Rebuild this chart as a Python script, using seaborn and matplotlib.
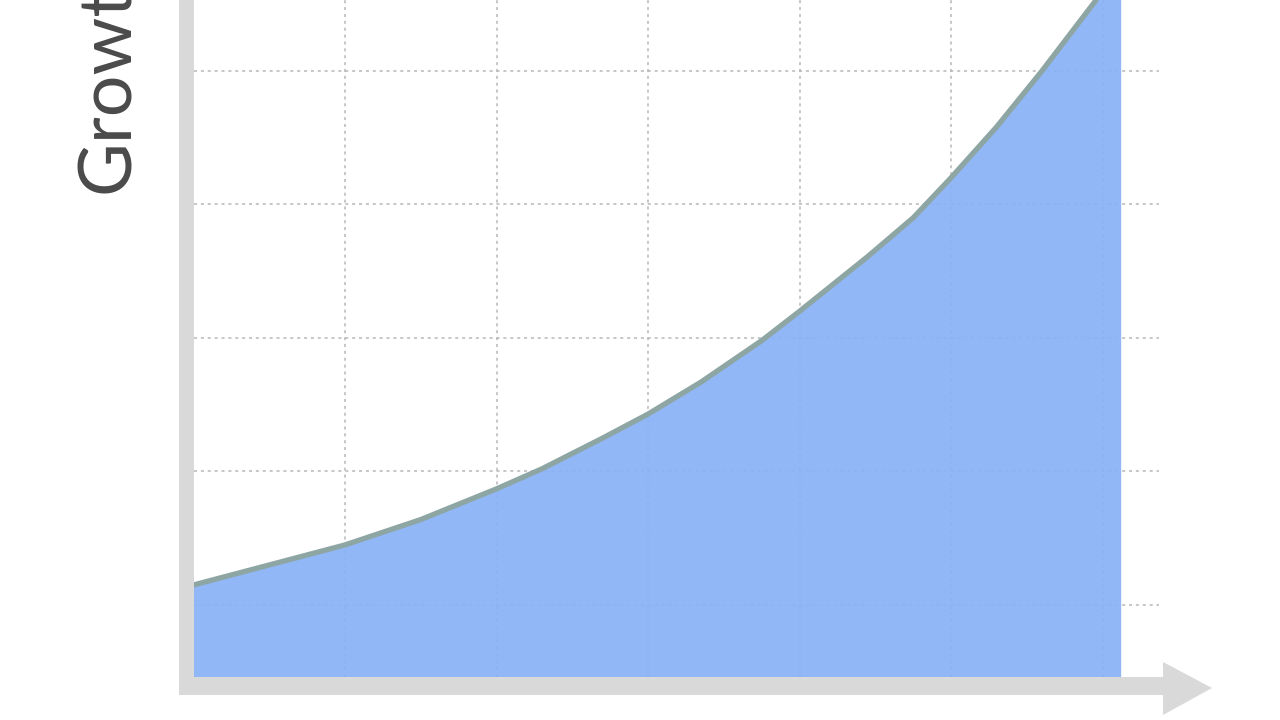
import matplotlib
matplotlib.use("Agg")
import matplotlib.pyplot as plt
import seaborn as sns
import pandas as pd
from matplotlib.patches import Rectangle, Polygon

# ---- data ----
x_vals = [0, 0.4, 1, 1.5, 2, 2.3, 2.7, 3, 3.35, 3.75, 4, 4.45, 4.75, 5, 5.3, 5.6, 5.95, 6.12]
growth = [1.15, 1.27, 1.45, 1.64, 1.87, 2.02, 2.25, 2.43, 2.67, 2.98, 3.20, 3.61, 3.90,
          4.20, 4.58, 5.00, 5.52, 5.80]
x_grid = [1, 2, 3, 4, 5, 6]
y_grid = [1, 2, 3, 4, 5]
y_label = "Growth"

df = pd.DataFrame({"x": x_vals, "growth": growth})

sns.set_style("white")

W, H = 1280, 720
fig = plt.figure(figsize=(12.8, 7.2), dpi=100)
fig.patch.set_facecolor("white")

x_unit = 151.5
y_unit = 133.5
x_max = 6.37
y_min = (738.5 - 677) / y_unit
y_max = y_min + 677 / y_unit

ax = fig.add_axes([193.5 / W, 43 / H, x_max * x_unit / W, 677 / H])
ax.set_xlim(0, x_max)
ax.set_ylim(y_min, y_max)

ax.set_xticks(x_grid)
ax.set_yticks(y_grid)
ax.grid(True, color="#b8b8b8", linestyle=(0, (2, 2.5)), linewidth=1.1, zorder=0)
ax.set_axisbelow(True)
ax.tick_params(left=False, bottom=False, labelleft=False, labelbottom=False)
for s in ax.spines.values():
    s.set_visible(False)

ax.fill_between(df["x"], df["growth"], y_min, color="#8ab2f7", alpha=0.93,
                linewidth=0, zorder=2)
sns.lineplot(data=df, x="x", y="growth", ax=ax, color="#8da5a3",
             linewidth=3.8, zorder=3, solid_capstyle="butt", solid_joinstyle="round")
ax.set_xlabel("")
ax.set_ylabel("")


def fx(px):
    return px / W


def fy(py):
    return 1 - py / H


axis_col = "#d9d9d9"
# vertical axis bar
fig.add_artist(Rectangle((fx(179), fy(695)), 15 / W, 695 / H,
                         transform=fig.transFigure, color=axis_col, lw=0, zorder=5))
# horizontal axis bar
fig.add_artist(Rectangle((fx(179), fy(695)), (1165 - 179) / W, 18 / H,
                         transform=fig.transFigure, color=axis_col, lw=0, zorder=5))
# arrow head
fig.add_artist(Polygon([(fx(1163), fy(662)), (fx(1212), fy(688)), (fx(1163), fy(715))],
                       closed=True, transform=fig.transFigure, color=axis_col, lw=0, zorder=5))

fig.text(fx(107), fy(193), y_label, rotation=90, ha="center", va="bottom",
         fontsize=53, color="#4a4a4a", family=["Lato", "DejaVu Sans"])

fig.savefig("out.png", dpi=100)
